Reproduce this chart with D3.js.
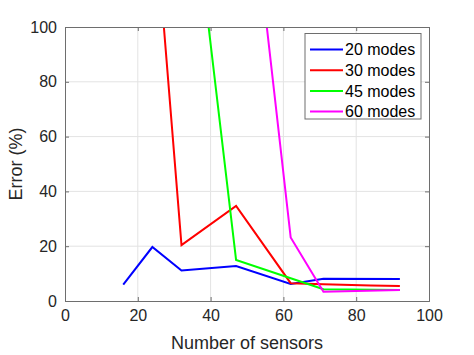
<!DOCTYPE html>
<html>
<head>
<meta charset="utf-8">
<script src="https://cdn.jsdelivr.net/npm/d3@7"></script>
<style>
  html, body { margin: 0; padding: 0; background: #fff; }
  svg { display: block; font-family: "Liberation Sans", Arial, sans-serif; }
</style>
</head>
<body>
<svg id="chart" width="474" height="355"></svg>
<script>
// ---- data ----
const xTicks = [0, 20, 40, 60, 80, 100];
const yTicks = [0, 20, 40, 60, 80, 100];
const seriesNames = ["20 modes", "30 modes", "45 modes", "60 modes"];
const seriesColors = ["#0000ff", "#ff0000", "#00ff00", "#ff00ff"];
const sensors20 = [16, 24, 32, 47, 62, 71, 92];
const error20   = [6.0, 19.7, 11.1, 12.8, 6.2, 8.1, 8.0];
const sensors30 = [24, 32, 47, 62, 71, 84, 92];
const error30   = [152, 20.4, 34.7, 6.5, 6.1, 5.7, 5.5];
const sensors45 = [32, 47, 62, 71, 92];
const error45   = [184, 15.0, 8.3, 4.3, 4.0];
const sensors60 = [47, 62, 71, 92];
const error60   = [199, 23.2, 3.4, 4.0];

const xs = [sensors20, sensors30, sensors45, sensors60];
const ys = [error20, error30, error45, error60];

(function () {
  // ---- layout ----
  const svg = d3.select("#chart");
  const L = 65, R = 429, T = 27, B = 301;
  const x = d3.scaleLinear().domain([0, 100]).range([L, R]);
  const y = d3.scaleLinear().domain([0, 100]).range([B, T]);
  const axisColor = "#6e6e6e";
  const textColor = "#262626";

  // grid
  const g = svg.append("g");
  g.selectAll(".gx").data(xTicks.slice(1, -1)).enter().append("line")
    .attr("x1", d => x(d)).attr("x2", d => x(d)).attr("y1", T).attr("y2", B)
    .attr("stroke", "#e3e3e3").attr("stroke-width", 1);
  g.selectAll(".gy").data(yTicks.slice(1, -1)).enter().append("line")
    .attr("y1", d => y(d)).attr("y2", d => y(d)).attr("x1", L).attr("x2", R)
    .attr("stroke", "#e3e3e3").attr("stroke-width", 1);

  // lines
  svg.append("clipPath").attr("id", "clip").append("rect")
    .attr("x", L).attr("y", T).attr("width", R - L).attr("height", B - T);
  const line = d3.line().x(d => x(d[0])).y(d => y(d[1]));
  const lg = svg.append("g").attr("clip-path", "url(#clip)");
  seriesNames.forEach((n, i) => {
    const pts = xs[i].map((v, j) => [v, ys[i][j]]);
    lg.append("path").datum(pts).attr("d", line)
      .attr("fill", "none").attr("stroke", seriesColors[i])
      .attr("stroke-width", 2).attr("stroke-linejoin", "miter");
  });

  // axes (inside ticks, box)
  const tickLen = 4;
  const axB = svg.append("g").attr("transform", `translate(0,${B})`)
    .call(d3.axisBottom(x).tickValues(xTicks).tickSize(-tickLen).tickPadding(8));
  const axT = svg.append("g").attr("transform", `translate(0,${T})`)
    .call(d3.axisTop(x).tickValues(xTicks).tickSize(-tickLen).tickFormat(""));
  const axL = svg.append("g").attr("transform", `translate(${L},0)`)
    .call(d3.axisLeft(y).tickValues(yTicks).tickSize(-tickLen).tickPadding(8));
  const axR = svg.append("g").attr("transform", `translate(${R},0)`)
    .call(d3.axisRight(y).tickValues(yTicks).tickSize(-tickLen).tickFormat(""));
  [axB, axT, axL, axR].forEach(a => {
    a.select(".domain").attr("stroke", axisColor).attr("stroke-width", 1);
    a.selectAll(".tick line").attr("stroke", axisColor);
    a.selectAll("text").attr("fill", textColor).attr("font-size", 16)
      .attr("font-family", "Liberation Sans, Arial, sans-serif");
  });
  axB.selectAll("text").attr("dy", "0.75em");

  // axis labels
  svg.append("text").attr("x", (L + R) / 2).attr("y", 349)
    .attr("text-anchor", "middle").attr("font-size", 18).attr("fill", textColor)
    .text("Number of sensors");
  svg.append("text").attr("transform", `translate(22,${(T + B) / 2}) rotate(-90)`)
    .attr("text-anchor", "middle").attr("font-size", 18).attr("fill", textColor)
    .text("Error (%)");

  // legend
  const lgX = 305, lgY = 33.5, lgW = 116, lgH = 85.5;
  const leg = svg.append("g");
  leg.append("rect").attr("x", lgX).attr("y", lgY).attr("width", lgW).attr("height", lgH)
    .attr("fill", "#fff").attr("stroke", axisColor).attr("stroke-width", 1);
  seriesNames.forEach((n, i) => {
    const cy = 49.5 + i * 20.7;
    leg.append("line").attr("x1", 310).attr("x2", 343).attr("y1", cy).attr("y2", cy)
      .attr("stroke", seriesColors[i]).attr("stroke-width", 2);
    leg.append("text").attr("x", 345).attr("y", cy + 5.6).attr("font-size", 16)
      .attr("fill", "#000").text(n);
  });
})();
</script>
</body>
</html>
